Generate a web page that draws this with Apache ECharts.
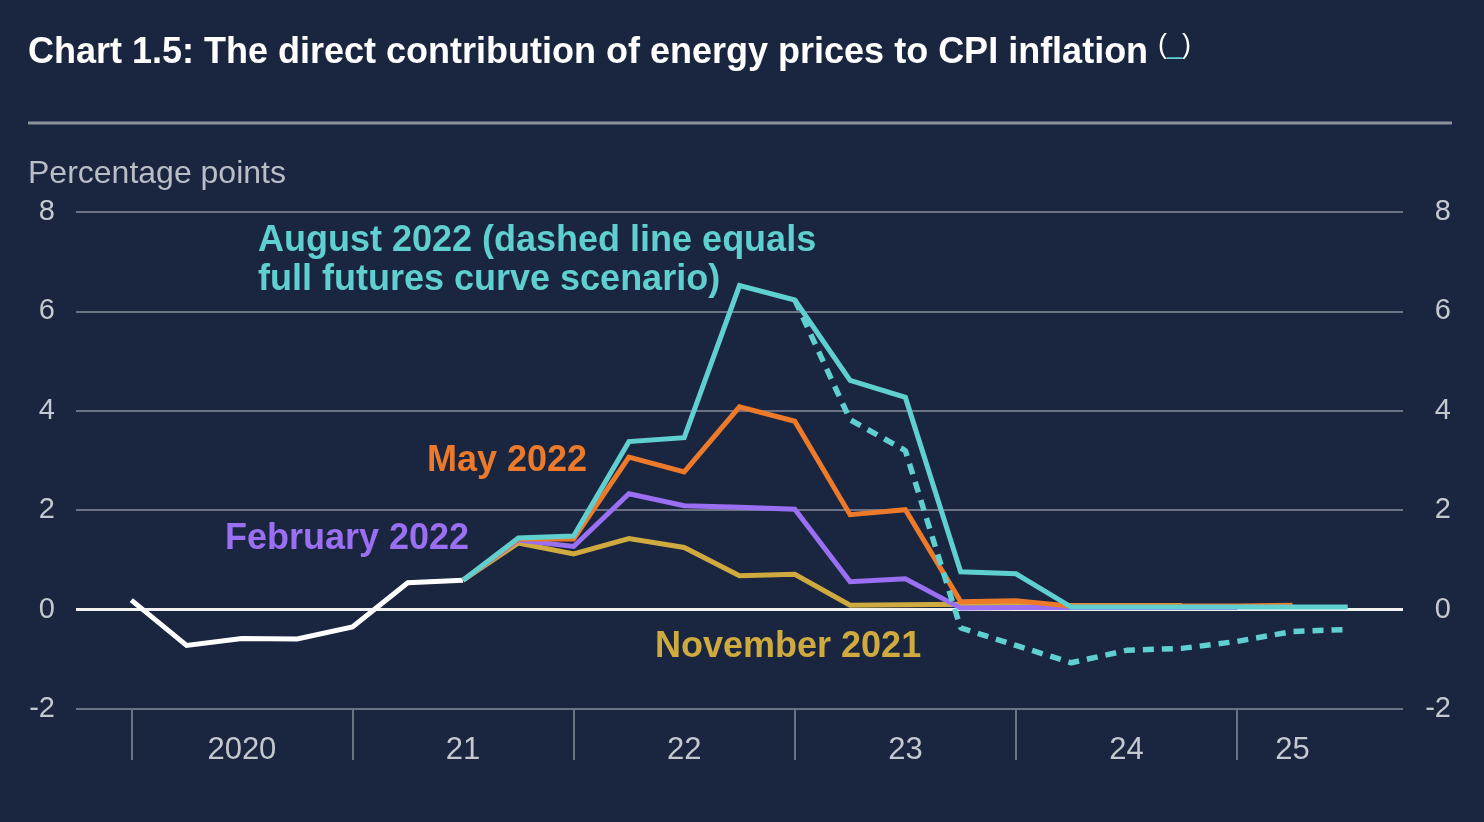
<!DOCTYPE html>
<html>
<head>
<meta charset="utf-8">
<script src="https://cdn.jsdelivr.net/npm/echarts@6/dist/echarts.min.js"></script>
<style>
  html, body { margin: 0; padding: 0; background: #1a2640; }
  #chart { width: 1484px; height: 822px; }
</style>
</head>
<body>
<div id="chart"></div>
<script>
// Quarter index 0 = 2020 Q1, ..., 22 = 2025 Q3
const yearLabels = ['2020', '21', '22', '23', '24', '25'];
const yearStartIdx = [0, 4, 8, 12, 16, 20];
const yearLabelIdx = [2, 6, 10, 14, 18, 21];

// Outturn (white)
const historyStart = 0;
const historyValues = [0.19, -0.72, -0.58, -0.59, -0.35, 0.54, 0.59];

// November 2021 projection (gold)
const nov2021Start = 6;
const nov2021Values = [0.59, 1.34, 1.12, 1.43, 1.25, 0.68, 0.71, 0.09, 0.10, 0.11, 0.08, 0.08, 0.08, 0.08];

// February 2022 projection (purple)
const feb2022Start = 6;
const feb2022Values = [0.59, 1.40, 1.27, 2.33, 2.09, 2.06, 2.02, 0.56, 0.62, 0.03, 0.04, 0.04, 0.04, 0.04, 0.04];

// May 2022 projection (orange)
const may2022Start = 6;
const may2022Values = [0.59, 1.42, 1.42, 3.07, 2.77, 4.08, 3.79, 1.91, 2.01, 0.16, 0.18, 0.07, 0.07, 0.07, 0.07, 0.09];

// August 2022 projection (teal)
const aug2022Start = 6;
const aug2022Values = [0.59, 1.44, 1.48, 3.38, 3.46, 6.52, 6.23, 4.61, 4.27, 0.76, 0.72, 0.05, 0.05, 0.05, 0.05, 0.05, 0.05];

// August 2022 full futures curve scenario (teal dashed)
const aug2022FuturesStart = 12;
const aug2022FuturesValues = [6.23, 3.82, 3.20, -0.37, -0.72, -1.07, -0.82, -0.78, -0.64, -0.44, -0.40];

const yTicks = [-2, 0, 2, 4, 6, 8];

function toPairs(start, values) {
  return values.map((v, i) => [start + i, v]);
}

const FONT = 'Liberation Sans, Arial, Helvetica, sans-serif';
const C = {
  bg: '#1a2640',
  grid: '#6b7384',
  axisText: '#c4c8cf',
  teal: '#5fcfcf',
  orange: '#ec7a2a',
  purple: '#9b6ff2',
  gold: '#cfaa3e',
  white: '#ffffff'
};

const chart = echarts.init(document.getElementById('chart'), null, { renderer: 'canvas' });

function lineSeries(name, data, color, extra) {
  return Object.assign({
    name: name,
    type: 'line',
    data: data,
    showSymbol: false,
    symbol: 'none',
    smooth: false,
    lineStyle: { color: color, width: 5, join: 'miter' },
    itemStyle: { color: color },
    animation: false
  }, extra || {});
}

const option = {
  backgroundColor: C.bg,
  animation: false,
  title: [
    {
      text: 'Chart 1.5: The direct contribution of energy prices to CPI inflation',
      left: 28,
      top: 32,
      padding: 0,
      textStyle: { color: '#ffffff', fontSize: 36, fontWeight: 'bold', fontFamily: FONT, lineHeight: 42 }
    },
    {
      text: 'Percentage points',
      left: 28,
      top: 156,
      padding: 0,
      textStyle: { color: '#b9bec6', fontSize: 32, fontWeight: 'normal', fontFamily: FONT, lineHeight: 36 }
    }
  ],
  grid: { left: 76, right: 81, top: 212, bottom: 113, containLabel: false },
  xAxis: {
    type: 'value',
    min: -1,
    max: 23,
    axisLine: { show: false, onZero: false },
    splitLine: { show: false },
    axisTick: {
      show: true,
      customValues: yearStartIdx,
      length: 51,
      lineStyle: { color: C.grid, width: 2 }
    },
    axisLabel: {
      show: true,
      customValues: yearLabelIdx,
      formatter: function (v) {
        const k = yearLabelIdx.indexOf(Math.round(v));
        return k >= 0 ? yearLabels[k] : '';
      },
      color: C.axisText,
      fontSize: 31,
      fontFamily: FONT,
      margin: 26
    }
  },
  yAxis: [
    {
      type: 'value',
      min: yTicks[0],
      max: yTicks[yTicks.length - 1],
      interval: 2,
      position: 'left',
      axisLine: { show: false },
      axisTick: { show: false },
      axisLabel: { color: C.axisText, fontSize: 29, fontFamily: FONT, margin: 21 },
      splitLine: { show: true, lineStyle: { color: C.grid, width: 2 } }
    },
    {
      type: 'value',
      min: yTicks[0],
      max: yTicks[yTicks.length - 1],
      interval: 2,
      position: 'right',
      axisLine: { show: false },
      axisTick: { show: false },
      axisLabel: { color: C.axisText, fontSize: 29, fontFamily: FONT, margin: 48, align: 'right' },
      splitLine: { show: false }
    }
  ],
  series: [
    lineSeries('Outturn', toPairs(historyStart, historyValues), C.white, {
      z: 3,
      markLine: {
        silent: true,
        symbol: ['none', 'none'],
        label: { show: false },
        lineStyle: { color: '#f2f2f2', width: 3, type: 'solid' },
        data: [{ yAxis: 0 }],
        z: 2
      }
    }),
    lineSeries('November 2021', toPairs(nov2021Start, nov2021Values), C.gold, { z: 4 }),
    lineSeries('February 2022', toPairs(feb2022Start, feb2022Values), C.purple, { z: 5 }),
    lineSeries('May 2022', toPairs(may2022Start, may2022Values), C.orange, { z: 6 }),
    lineSeries('August 2022', toPairs(aug2022Start, aug2022Values), C.teal, { z: 7 }),
    lineSeries('August 2022 (full futures curve scenario)', toPairs(aug2022FuturesStart, aug2022FuturesValues), C.teal, {
      z: 8,
      lineStyle: { color: C.teal, width: 5.5, type: [11, 8] }
    })
  ],
  graphic: [
    {
      type: 'rect',
      shape: { x: 28, y: 121.5, width: 1424, height: 3 },
      style: { fill: '#8d939d' },
      silent: true
    },
    {
      type: 'text',
      x: 1158,
      y: 46,
      style: {
        text: '{p|(}{u|_}{p|)}',
        textVerticalAlign: 'middle',
        rich: {
          p: { fill: '#ffffff', fontSize: 27, fontFamily: FONT },
          u: { fill: C.teal, fontSize: 27, fontFamily: FONT }
        }
      },
      silent: true
    },
    {
      type: 'text',
      x: 258,
      y: 260.5,
      style: {
        text: 'August 2022 (dashed line equals\nfull futures curve scenario)',
        fill: C.teal,
        fontSize: 36,
        fontWeight: 'bold',
        fontFamily: FONT,
        lineHeight: 39,
        textVerticalAlign: 'middle',
        textAlign: 'left'
      },
      silent: true
    },
    {
      type: 'text',
      x: 427,
      y: 461,
      style: { text: 'May 2022', fill: C.orange, fontSize: 36, fontWeight: 'bold', fontFamily: FONT, textVerticalAlign: 'middle' },
      silent: true
    },
    {
      type: 'text',
      x: 225,
      y: 539,
      style: { text: 'February 2022', fill: C.purple, fontSize: 36, fontWeight: 'bold', fontFamily: FONT, textVerticalAlign: 'middle' },
      silent: true
    },
    {
      type: 'text',
      x: 655,
      y: 647,
      style: { text: 'November 2021', fill: C.gold, fontSize: 36, fontWeight: 'bold', fontFamily: FONT, textVerticalAlign: 'middle' },
      silent: true
    }
  ]
};

chart.setOption(option);
</script>
</body>
</html>
